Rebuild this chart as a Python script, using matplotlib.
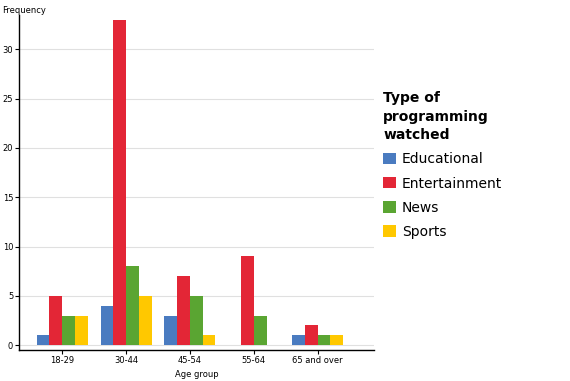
import matplotlib.pyplot as plt
import numpy as np

# 연령대별 시청 프로그램 유형 빈도
age_groups = ["18-29", "30-44", "45-54", "55-64", "65 and over"]
educational = [1, 4, 3, 0, 1]
entertainment = [5, 33, 7, 9, 2]
news = [3, 8, 5, 3, 1]
sports = [3, 5, 1, 0, 1]

series_names = ["Educational", "Entertainment", "News", "Sports"]
colors = ["#4a7bc0", "#e32636", "#5aa532", "#ffc800"]

fig = plt.figure(figsize=(5.7, 3.81), dpi=100)
ax = fig.add_axes([0.034, 0.081, 0.622, 0.880])

x = np.arange(len(age_groups))
width = 0.2
all_series = [educational, entertainment, news, sports]
for i, (vals, name, col) in enumerate(zip(all_series, series_names, colors)):
    ax.bar(x + (i - 1.5) * width, vals, width, color=col, label=name, zorder=3)

ax.set_xlim(-0.67, 4.88)
ax.set_ylim(-0.5, 33.5)
ax.set_yticks([0, 5, 10, 15, 20, 25, 30])
ax.set_xticks(x)
ax.set_xticklabels(age_groups)
ax.tick_params(labelsize=6, length=3, width=0.8, pad=1.5, color="black")

# 가로 격자선만
ax.grid(axis="y", color="#e0e0e0", linewidth=0.8, zorder=0)
for s in ["top", "right"]:
    ax.spines[s].set_visible(False)
ax.spines["left"].set_linewidth(1)
ax.spines["bottom"].set_linewidth(1)

ax.set_xlabel("Age group", fontsize=6, labelpad=3)
fig.text(0.003, 0.985, "Frequency", fontsize=6, ha="left", va="top")

leg = ax.legend(
    title="Type of\nprogramming\nwatched",
    loc="upper left",
    bbox_to_anchor=(0.672, 0.76),
    bbox_transform=fig.transFigure,
    frameon=False,
    fontsize=10,
    title_fontproperties={"weight": "bold", "size": 10},
    handlelength=0.9,
    handleheight=0.9,
    handletextpad=0.45,
    labelspacing=0.73,
    borderaxespad=0,
    borderpad=0,
    alignment="left",
)
leg.get_title().set_linespacing(1.4)

fig.savefig("out.png", dpi=100)
